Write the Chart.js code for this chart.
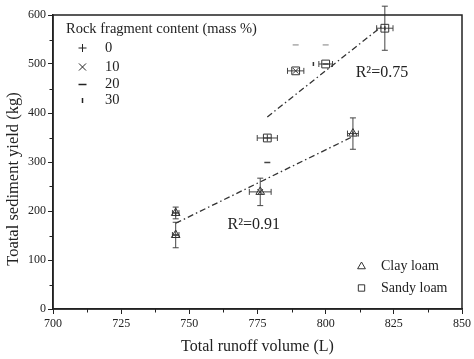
<!DOCTYPE html>
<html><head><meta charset="utf-8">
<script src="https://cdn.jsdelivr.net/npm/chart.js@4/dist/chart.umd.min.js"></script>
<style>html,body{margin:0;padding:0;background:#fff;overflow:hidden}#wrap{width:474px;height:359px}</style>
</head><body><div id="wrap"><canvas id="c" width="474" height="359"></canvas></div>
<script>
// ---- data ----
const clayX = [745, 745, 776, 810];
const clayY = [196, 151, 239, 358];
const clayErrX = [1.2, 1.2, 4, 2];
const clayErrY = [12, 26, 28, 32];
const sandyX = [778.6, 789, 800, 821.7];
const sandyY = [349, 486, 500, 573];
const sandyErrX = [3.7, 3, 2.5, 3];
const sandyErrY = [0, 0, 0, 45];
const rock0X = [745, 778.6];   const rock0Y = [196, 349];
const rock10X = [776, 789];    const rock10Y = [239, 486];
const rock20X = [745, 800, 789, 800, 778.6]; const rock20Y = [151, 500, 539, 539, 299];
const rock30X = [810, 821.7, 795.5]; const rock30Y = [358, 573, 500];
const clayFitX = [745, 810];   const clayFitY = [175, 352];
const sandyFitX = [778.6, 821.3]; const sandyFitY = [392, 580];
const rockLabels = ['0', '10', '20', '30'];
const soilLabels = ['Clay loam', 'Sandy loam'];
const r2Labels = ['R\u00B2=0.91', 'R\u00B2=0.75'];
const xTitle = 'Total runoff volume (L)';
const yTitle = 'Toatal sediment yield (kg)';
const legendTitle = 'Rock fragment content (mass %)';

const F = "'Liberation Serif', 'Times New Roman', serif";
const INK = '#222';
const pts = (xs, ys) => xs.map((x, i) => ({x, y: ys[i]}));

const rockStyles = [
  {pointStyle: 'cross', radius: 3.5, rotation: 0, borderWidth: 1},
  {pointStyle: 'crossRot', radius: 4, rotation: 0, borderWidth: 1},
  {pointStyle: 'line', radius: 3, rotation: 0, borderWidth: 1.5},
  {pointStyle: 'line', radius: 2, rotation: 90, borderWidth: 1.5}
];
const legendMarkerR = [4, 5, 4, 2.5];

const errData = [
  {ds: 0, ex: clayErrX, ey: clayErrY},
  {ds: 1, ex: sandyErrX, ey: sandyErrY}
];

const decor = {
  id: 'decor',
  beforeDatasetsDraw(chart) {
    const {ctx} = chart;
    const xs = chart.scales.x, ys = chart.scales.y;
    ctx.save();
    ctx.strokeStyle = '#444';
    ctx.lineWidth = 1;
    errData.forEach(e => {
      const data = chart.data.datasets[e.ds].data;
      data.forEach((p, i) => {
        const cx = xs.getPixelForValue(p.x), cy = ys.getPixelForValue(p.y);
        ctx.beginPath();
        if (e.ey[i] > 0) {
          const y1 = ys.getPixelForValue(p.y + e.ey[i]), y2 = ys.getPixelForValue(p.y - e.ey[i]);
          ctx.moveTo(cx, y1); ctx.lineTo(cx, y2);
          ctx.moveTo(cx - 3, y1); ctx.lineTo(cx + 3, y1);
          ctx.moveTo(cx - 3, y2); ctx.lineTo(cx + 3, y2);
        }
        if (e.ex[i] > 0) {
          const x1 = xs.getPixelForValue(p.x - e.ex[i]), x2 = xs.getPixelForValue(p.x + e.ex[i]);
          ctx.moveTo(x1, cy); ctx.lineTo(x2, cy);
          ctx.moveTo(x1, cy - 3); ctx.lineTo(x1, cy + 3);
          ctx.moveTo(x2, cy - 3); ctx.lineTo(x2, cy + 3);
        }
        ctx.stroke();
      });
    });
    ctx.restore();
  },
  afterDraw(chart) {
    const {ctx, chartArea: a} = chart;
    const xs = chart.scales.x, ys = chart.scales.y;
    ctx.save();
    // frame
    ctx.strokeStyle = INK; ctx.lineWidth = 1.5;
    ctx.strokeRect(a.left, a.top, a.right - a.left, a.bottom - a.top);
    // minor ticks
    ctx.lineWidth = 1;
    ctx.beginPath();
    for (let i = 0; i < xs.ticks.length - 1; i++) {
      const v = (xs.ticks[i].value + xs.ticks[i + 1].value) / 2;
      const px = Math.round(xs.getPixelForValue(v)) + 0.5;
      ctx.moveTo(px, a.bottom); ctx.lineTo(px, a.bottom + 3.5);
    }
    for (let i = 0; i < ys.ticks.length - 1; i++) {
      const v = (ys.ticks[i].value + ys.ticks[i + 1].value) / 2;
      const py = Math.round(ys.getPixelForValue(v)) + 0.5;
      ctx.moveTo(a.left, py); ctx.lineTo(a.left - 3.5, py);
    }
    ctx.stroke();

    // y title (drawn centred where the reference puts it)
    ctx.save();
    ctx.fillStyle = INK;
    ctx.font = '16.5px ' + F;
    ctx.textAlign = 'center';
    ctx.textBaseline = 'middle';
    ctx.translate(14, 179);
    ctx.rotate(-Math.PI / 2);
    ctx.fillText(yTitle, 0, 0);
    ctx.restore();

    // rock fragment legend
    ctx.fillStyle = INK;
    ctx.textBaseline = 'middle';
    ctx.font = '14.5px ' + F;
    ctx.fillText(legendTitle, 66, 29);
    const ly = [48, 67, 84.5, 100.5];
    rockLabels.forEach((lab, i) => {
      const st = rockStyles[i];
      ctx.strokeStyle = INK; ctx.lineWidth = st.borderWidth;
      Chart.helpers.drawPoint(ctx, {pointStyle: st.pointStyle, radius: legendMarkerR[i], rotation: st.rotation, borderWidth: i >= 2 ? 2 : 1}, 82.5, ly[i]);
      ctx.fillText(lab, 105, ly[i]);
    });

    // soil legend
    const sy = [266.5, 288];
    const soilDs = [chart.data.datasets[0], chart.data.datasets[1]];
    soilLabels.forEach((lab, i) => {
      const d = soilDs[i];
      ctx.strokeStyle = '#333'; ctx.lineWidth = 1; ctx.fillStyle = '#fff';
      Chart.helpers.drawPoint(ctx, {pointStyle: d.pointStyle, radius: 4.5, rotation: 0, borderWidth: 1}, 361.5, sy[i]);
      ctx.fillStyle = INK;
      ctx.font = '14px ' + F;
      ctx.fillText(lab, 381, sy[i]);
    });

    // R² labels
    ctx.font = '16px ' + F;
    ctx.fillText(r2Labels[0], xs.getPixelForValue(764), ys.getPixelForValue(171));
    ctx.fillText(r2Labels[1], xs.getPixelForValue(811), ys.getPixelForValue(482));
    ctx.restore();
  }
};

const rockSets = [[rock0X, rock0Y], [rock10X, rock10Y], [rock20X, rock20Y], [rock30X, rock30Y]].map((xy, i) => ({
  label: rockLabels[i],
  data: pts(xy[0], xy[1]),
  showLine: false,
  pointStyle: rockStyles[i].pointStyle,
  pointRadius: rockStyles[i].radius,
  pointRotation: rockStyles[i].rotation,
  pointBorderWidth: rockStyles[i].borderWidth,
  borderColor: i === 2 ? (c => (c.dataIndex === 2 || c.dataIndex === 3) ? '#aaa' : '#444') : '#333',
  backgroundColor: '#333'
}));

new Chart(document.getElementById('c'), {
  type: 'scatter',
  data: {
    datasets: [
      {label: soilLabels[0], data: pts(clayX, clayY), pointStyle: 'triangle', pointRadius: 5,
       borderColor: '#333', backgroundColor: 'rgba(255,255,255,0)', pointBorderWidth: 1},
      {label: soilLabels[1], data: pts(sandyX, sandyY), pointStyle: 'rect', pointRadius: 5.5,
       borderColor: '#333', backgroundColor: 'rgba(255,255,255,0)', pointBorderWidth: 1},
      {label: 'fit clay', data: pts(clayFitX, clayFitY), showLine: true, pointRadius: 0,
       borderColor: '#333', borderWidth: 1.3, borderDash: [6, 3, 1.5, 3]},
      {label: 'fit sandy', data: pts(sandyFitX, sandyFitY), showLine: true, pointRadius: 0,
       borderColor: '#333', borderWidth: 1.3, borderDash: [6, 3, 1.5, 3]},
      ...rockSets
    ]
  },
  options: {
    responsive: false,
    animation: false,
    devicePixelRatio: 1,
    layout: {padding: {top: 15, right: 11, left: 0, bottom: 0}},
    plugins: {legend: {display: false}, tooltip: {enabled: false}},
    scales: {
      x: {
        type: 'linear', position: 'bottom', min: 700, max: 850,
        ticks: {stepSize: 25, color: INK, font: {family: F, size: 12}, padding: 3, maxRotation: 0, autoSkip: false},
        grid: {drawOnChartArea: false, drawTicks: true, tickLength: 5, tickColor: INK, tickWidth: 1},
        border: {color: INK, width: 1.5},
        title: {display: true, text: xTitle, color: INK, font: {family: F, size: 16}, padding: {top: 0, bottom: 2.5}},
        afterFit(s) { s.height = 50; }
      },
      y: {
        type: 'linear', position: 'left', min: 0, max: 600,
        ticks: {stepSize: 100, color: INK, font: {family: F, size: 12}, padding: 2},
        grid: {drawOnChartArea: false, drawTicks: true, tickLength: 5, tickColor: INK, tickWidth: 1},
        border: {color: INK, width: 1.5},
        title: {display: false},
        afterFit(s) { s.width = 53; }
      }
    }
  },
  plugins: [decor]
});
</script>
</body></html>
